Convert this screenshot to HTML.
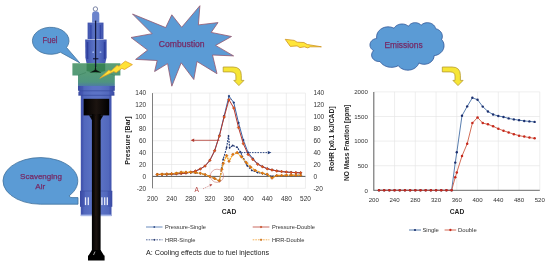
<!DOCTYPE html>
<html><head><meta charset="utf-8"><title>Figure</title>
<style>html,body{margin:0;padding:0;background:#fff}svg{display:block}</style>
</head><body>
<svg width="550" height="265" viewBox="0 0 550 265">
<rect width="550" height="265" fill="#fff"/>
<path d="M152.5,188.3 H305.46" stroke="#e3e3e3" stroke-width="0.6"/>
<path d="M152.5,164.5 H305.46" stroke="#e3e3e3" stroke-width="0.6"/>
<path d="M152.5,152.6 H305.46" stroke="#e3e3e3" stroke-width="0.6"/>
<path d="M152.5,140.7 H305.46" stroke="#e3e3e3" stroke-width="0.6"/>
<path d="M152.5,128.8 H305.46" stroke="#e3e3e3" stroke-width="0.6"/>
<path d="M152.5,116.9 H305.46" stroke="#e3e3e3" stroke-width="0.6"/>
<path d="M152.5,105 H305.46" stroke="#e3e3e3" stroke-width="0.6"/>
<path d="M152.5,93.1 H305.46" stroke="#e3e3e3" stroke-width="0.6"/>
<path d="M171.62,93.1 V188.3" stroke="#e3e3e3" stroke-width="0.6"/>
<path d="M190.74,93.1 V188.3" stroke="#e3e3e3" stroke-width="0.6"/>
<path d="M209.86,93.1 V188.3" stroke="#e3e3e3" stroke-width="0.6"/>
<path d="M228.98,93.1 V188.3" stroke="#e3e3e3" stroke-width="0.6"/>
<path d="M248.1,93.1 V188.3" stroke="#e3e3e3" stroke-width="0.6"/>
<path d="M267.22,93.1 V188.3" stroke="#e3e3e3" stroke-width="0.6"/>
<path d="M286.34,93.1 V188.3" stroke="#e3e3e3" stroke-width="0.6"/>
<path d="M305.46,93.1 V188.3" stroke="#e3e3e3" stroke-width="0.6"/>
<path d="M152.5,93.1 V188.3" stroke="#7f7f7f" stroke-width="1"/>
<path d="M152.5,176.4 H305.46" stroke="#595959" stroke-width="1"/>
<text x="146.2" y="190.6" font-size="6.5" text-anchor="end" fill="#333333" font-family="Liberation Sans, sans-serif">-20</text>
<text x="313.4" y="190.6" font-size="6.5" text-anchor="start" fill="#333333" font-family="Liberation Sans, sans-serif">-20</text>
<text x="146.2" y="178.7" font-size="6.5" text-anchor="end" fill="#333333" font-family="Liberation Sans, sans-serif">0</text>
<text x="313.4" y="178.7" font-size="6.5" text-anchor="start" fill="#333333" font-family="Liberation Sans, sans-serif">0</text>
<text x="146.2" y="166.8" font-size="6.5" text-anchor="end" fill="#333333" font-family="Liberation Sans, sans-serif">20</text>
<text x="313.4" y="166.8" font-size="6.5" text-anchor="start" fill="#333333" font-family="Liberation Sans, sans-serif">20</text>
<text x="146.2" y="154.9" font-size="6.5" text-anchor="end" fill="#333333" font-family="Liberation Sans, sans-serif">40</text>
<text x="313.4" y="154.9" font-size="6.5" text-anchor="start" fill="#333333" font-family="Liberation Sans, sans-serif">40</text>
<text x="146.2" y="143" font-size="6.5" text-anchor="end" fill="#333333" font-family="Liberation Sans, sans-serif">60</text>
<text x="313.4" y="143" font-size="6.5" text-anchor="start" fill="#333333" font-family="Liberation Sans, sans-serif">60</text>
<text x="146.2" y="131.1" font-size="6.5" text-anchor="end" fill="#333333" font-family="Liberation Sans, sans-serif">80</text>
<text x="313.4" y="131.1" font-size="6.5" text-anchor="start" fill="#333333" font-family="Liberation Sans, sans-serif">80</text>
<text x="146.2" y="119.2" font-size="6.5" text-anchor="end" fill="#333333" font-family="Liberation Sans, sans-serif">100</text>
<text x="313.4" y="119.2" font-size="6.5" text-anchor="start" fill="#333333" font-family="Liberation Sans, sans-serif">100</text>
<text x="146.2" y="107.3" font-size="6.5" text-anchor="end" fill="#333333" font-family="Liberation Sans, sans-serif">120</text>
<text x="313.4" y="107.3" font-size="6.5" text-anchor="start" fill="#333333" font-family="Liberation Sans, sans-serif">120</text>
<text x="146.2" y="95.4" font-size="6.5" text-anchor="end" fill="#333333" font-family="Liberation Sans, sans-serif">140</text>
<text x="313.4" y="95.4" font-size="6.5" text-anchor="start" fill="#333333" font-family="Liberation Sans, sans-serif">140</text>
<text x="152.5" y="201.1" font-size="6.5" text-anchor="middle" fill="#333333" font-family="Liberation Sans, sans-serif">200</text>
<text x="171.62" y="201.1" font-size="6.5" text-anchor="middle" fill="#333333" font-family="Liberation Sans, sans-serif">240</text>
<text x="190.74" y="201.1" font-size="6.5" text-anchor="middle" fill="#333333" font-family="Liberation Sans, sans-serif">280</text>
<text x="209.86" y="201.1" font-size="6.5" text-anchor="middle" fill="#333333" font-family="Liberation Sans, sans-serif">320</text>
<text x="228.98" y="201.1" font-size="6.5" text-anchor="middle" fill="#333333" font-family="Liberation Sans, sans-serif">360</text>
<text x="248.1" y="201.1" font-size="6.5" text-anchor="middle" fill="#333333" font-family="Liberation Sans, sans-serif">400</text>
<text x="267.22" y="201.1" font-size="6.5" text-anchor="middle" fill="#333333" font-family="Liberation Sans, sans-serif">440</text>
<text x="286.34" y="201.1" font-size="6.5" text-anchor="middle" fill="#333333" font-family="Liberation Sans, sans-serif">480</text>
<text x="305.46" y="201.1" font-size="6.5" text-anchor="middle" fill="#333333" font-family="Liberation Sans, sans-serif">520</text>
<text transform="translate(130.1,140.5) rotate(-90)" font-size="7" font-weight="bold" text-anchor="middle" fill="#262626" font-family="Liberation Sans, sans-serif">Pressure [Bar]</text>
<text transform="translate(334.3,138.6) rotate(-90)" font-size="6.8" font-weight="bold" text-anchor="middle" fill="#262626" font-family="Liberation Sans, sans-serif">RoHR [x0.1 kJ/CAD]</text>
<text x="229" y="213.5" font-size="6.7" font-weight="bold" text-anchor="middle" fill="#262626" font-family="Liberation Sans, sans-serif">CAD</text>
<polyline points="157.28,174.5 162.06,174.38 166.84,174.26 171.62,174.08 176.4,173.84 181.18,173.54 185.96,173.07 190.74,172.24 195.52,171.05 200.3,168.96 205.08,165.99 209.86,160.34 214.64,150.81 219.42,135.34 224.2,115.71 228.98,96.08 233.76,102.62 238.54,122.85 243.32,140.11 248.1,152.6 252.88,158.55 257.66,163.91 262.44,166.52 267.22,168.67 272,169.86 276.78,170.87 281.56,171.52 286.34,172 291.12,172.35 295.9,172.59 300.68,172.83" fill="none" stroke="#3a66a8" stroke-width="1" stroke-linejoin="round"/>
<path d="M157.28,173.2 l1.3,1.3 l-1.3,1.3 l-1.3,-1.3 Z" fill="#1f3a7a"/>
<path d="M162.06,173.08 l1.3,1.3 l-1.3,1.3 l-1.3,-1.3 Z" fill="#1f3a7a"/>
<path d="M166.84,172.96 l1.3,1.3 l-1.3,1.3 l-1.3,-1.3 Z" fill="#1f3a7a"/>
<path d="M171.62,172.78 l1.3,1.3 l-1.3,1.3 l-1.3,-1.3 Z" fill="#1f3a7a"/>
<path d="M176.4,172.54 l1.3,1.3 l-1.3,1.3 l-1.3,-1.3 Z" fill="#1f3a7a"/>
<path d="M181.18,172.24 l1.3,1.3 l-1.3,1.3 l-1.3,-1.3 Z" fill="#1f3a7a"/>
<path d="M185.96,171.77 l1.3,1.3 l-1.3,1.3 l-1.3,-1.3 Z" fill="#1f3a7a"/>
<path d="M190.74,170.94 l1.3,1.3 l-1.3,1.3 l-1.3,-1.3 Z" fill="#1f3a7a"/>
<path d="M195.52,169.75 l1.3,1.3 l-1.3,1.3 l-1.3,-1.3 Z" fill="#1f3a7a"/>
<path d="M200.3,167.66 l1.3,1.3 l-1.3,1.3 l-1.3,-1.3 Z" fill="#1f3a7a"/>
<path d="M205.08,164.69 l1.3,1.3 l-1.3,1.3 l-1.3,-1.3 Z" fill="#1f3a7a"/>
<path d="M209.86,159.03 l1.3,1.3 l-1.3,1.3 l-1.3,-1.3 Z" fill="#1f3a7a"/>
<path d="M214.64,149.51 l1.3,1.3 l-1.3,1.3 l-1.3,-1.3 Z" fill="#1f3a7a"/>
<path d="M219.42,134.04 l1.3,1.3 l-1.3,1.3 l-1.3,-1.3 Z" fill="#1f3a7a"/>
<path d="M224.2,114.41 l1.3,1.3 l-1.3,1.3 l-1.3,-1.3 Z" fill="#1f3a7a"/>
<path d="M228.98,94.78 l1.3,1.3 l-1.3,1.3 l-1.3,-1.3 Z" fill="#1f3a7a"/>
<path d="M233.76,101.32 l1.3,1.3 l-1.3,1.3 l-1.3,-1.3 Z" fill="#1f3a7a"/>
<path d="M238.54,121.55 l1.3,1.3 l-1.3,1.3 l-1.3,-1.3 Z" fill="#1f3a7a"/>
<path d="M243.32,138.81 l1.3,1.3 l-1.3,1.3 l-1.3,-1.3 Z" fill="#1f3a7a"/>
<path d="M248.1,151.3 l1.3,1.3 l-1.3,1.3 l-1.3,-1.3 Z" fill="#1f3a7a"/>
<path d="M252.88,157.25 l1.3,1.3 l-1.3,1.3 l-1.3,-1.3 Z" fill="#1f3a7a"/>
<path d="M257.66,162.6 l1.3,1.3 l-1.3,1.3 l-1.3,-1.3 Z" fill="#1f3a7a"/>
<path d="M262.44,165.22 l1.3,1.3 l-1.3,1.3 l-1.3,-1.3 Z" fill="#1f3a7a"/>
<path d="M267.22,167.37 l1.3,1.3 l-1.3,1.3 l-1.3,-1.3 Z" fill="#1f3a7a"/>
<path d="M272,168.56 l1.3,1.3 l-1.3,1.3 l-1.3,-1.3 Z" fill="#1f3a7a"/>
<path d="M276.78,169.57 l1.3,1.3 l-1.3,1.3 l-1.3,-1.3 Z" fill="#1f3a7a"/>
<path d="M281.56,170.22 l1.3,1.3 l-1.3,1.3 l-1.3,-1.3 Z" fill="#1f3a7a"/>
<path d="M286.34,170.7 l1.3,1.3 l-1.3,1.3 l-1.3,-1.3 Z" fill="#1f3a7a"/>
<path d="M291.12,171.05 l1.3,1.3 l-1.3,1.3 l-1.3,-1.3 Z" fill="#1f3a7a"/>
<path d="M295.9,171.29 l1.3,1.3 l-1.3,1.3 l-1.3,-1.3 Z" fill="#1f3a7a"/>
<path d="M300.68,171.53 l1.3,1.3 l-1.3,1.3 l-1.3,-1.3 Z" fill="#1f3a7a"/>
<polyline points="157.28,174.5 162.06,174.38 166.84,174.26 171.62,174.08 176.4,173.84 181.18,173.54 185.96,173.07 190.74,172.24 195.52,171.05 200.3,168.96 205.08,165.99 209.86,160.34 214.64,150.81 219.42,135.94 224.2,116.9 228.98,99.65 233.76,107.98 238.54,127.61 243.32,143.68 248.1,154.38 252.88,159.44 257.66,164.2 262.44,166.76 267.22,168.78 272,169.97 276.78,170.93 281.56,171.58 286.34,172.06 291.12,172.41 295.9,172.65 300.68,172.83" fill="none" stroke="#b8382c" stroke-width="1" stroke-linejoin="round"/>
<path d="M157.28,173 l1.5,1.5 l-1.5,1.5 l-1.5,-1.5 Z" fill="#e0561a" stroke="#a0301c" stroke-width="0.3"/>
<path d="M162.06,172.88 l1.5,1.5 l-1.5,1.5 l-1.5,-1.5 Z" fill="#e0561a" stroke="#a0301c" stroke-width="0.3"/>
<path d="M166.84,172.76 l1.5,1.5 l-1.5,1.5 l-1.5,-1.5 Z" fill="#e0561a" stroke="#a0301c" stroke-width="0.3"/>
<path d="M171.62,172.58 l1.5,1.5 l-1.5,1.5 l-1.5,-1.5 Z" fill="#e0561a" stroke="#a0301c" stroke-width="0.3"/>
<path d="M176.4,172.34 l1.5,1.5 l-1.5,1.5 l-1.5,-1.5 Z" fill="#e0561a" stroke="#a0301c" stroke-width="0.3"/>
<path d="M181.18,172.04 l1.5,1.5 l-1.5,1.5 l-1.5,-1.5 Z" fill="#e0561a" stroke="#a0301c" stroke-width="0.3"/>
<path d="M185.96,171.57 l1.5,1.5 l-1.5,1.5 l-1.5,-1.5 Z" fill="#e0561a" stroke="#a0301c" stroke-width="0.3"/>
<path d="M190.74,170.74 l1.5,1.5 l-1.5,1.5 l-1.5,-1.5 Z" fill="#e0561a" stroke="#a0301c" stroke-width="0.3"/>
<path d="M195.52,169.55 l1.5,1.5 l-1.5,1.5 l-1.5,-1.5 Z" fill="#e0561a" stroke="#a0301c" stroke-width="0.3"/>
<path d="M200.3,167.46 l1.5,1.5 l-1.5,1.5 l-1.5,-1.5 Z" fill="#e0561a" stroke="#a0301c" stroke-width="0.3"/>
<path d="M205.08,164.49 l1.5,1.5 l-1.5,1.5 l-1.5,-1.5 Z" fill="#e0561a" stroke="#a0301c" stroke-width="0.3"/>
<path d="M209.86,158.84 l1.5,1.5 l-1.5,1.5 l-1.5,-1.5 Z" fill="#e0561a" stroke="#a0301c" stroke-width="0.3"/>
<path d="M214.64,149.31 l1.5,1.5 l-1.5,1.5 l-1.5,-1.5 Z" fill="#e0561a" stroke="#a0301c" stroke-width="0.3"/>
<path d="M219.42,134.44 l1.5,1.5 l-1.5,1.5 l-1.5,-1.5 Z" fill="#e0561a" stroke="#a0301c" stroke-width="0.3"/>
<path d="M224.2,115.4 l1.5,1.5 l-1.5,1.5 l-1.5,-1.5 Z" fill="#e0561a" stroke="#a0301c" stroke-width="0.3"/>
<path d="M228.98,98.15 l1.5,1.5 l-1.5,1.5 l-1.5,-1.5 Z" fill="#e0561a" stroke="#a0301c" stroke-width="0.3"/>
<path d="M233.76,106.48 l1.5,1.5 l-1.5,1.5 l-1.5,-1.5 Z" fill="#e0561a" stroke="#a0301c" stroke-width="0.3"/>
<path d="M238.54,126.11 l1.5,1.5 l-1.5,1.5 l-1.5,-1.5 Z" fill="#e0561a" stroke="#a0301c" stroke-width="0.3"/>
<path d="M243.32,142.18 l1.5,1.5 l-1.5,1.5 l-1.5,-1.5 Z" fill="#e0561a" stroke="#a0301c" stroke-width="0.3"/>
<path d="M248.1,152.88 l1.5,1.5 l-1.5,1.5 l-1.5,-1.5 Z" fill="#e0561a" stroke="#a0301c" stroke-width="0.3"/>
<path d="M252.88,157.94 l1.5,1.5 l-1.5,1.5 l-1.5,-1.5 Z" fill="#e0561a" stroke="#a0301c" stroke-width="0.3"/>
<path d="M257.66,162.7 l1.5,1.5 l-1.5,1.5 l-1.5,-1.5 Z" fill="#e0561a" stroke="#a0301c" stroke-width="0.3"/>
<path d="M262.44,165.26 l1.5,1.5 l-1.5,1.5 l-1.5,-1.5 Z" fill="#e0561a" stroke="#a0301c" stroke-width="0.3"/>
<path d="M267.22,167.28 l1.5,1.5 l-1.5,1.5 l-1.5,-1.5 Z" fill="#e0561a" stroke="#a0301c" stroke-width="0.3"/>
<path d="M272,168.47 l1.5,1.5 l-1.5,1.5 l-1.5,-1.5 Z" fill="#e0561a" stroke="#a0301c" stroke-width="0.3"/>
<path d="M276.78,169.43 l1.5,1.5 l-1.5,1.5 l-1.5,-1.5 Z" fill="#e0561a" stroke="#a0301c" stroke-width="0.3"/>
<path d="M281.56,170.08 l1.5,1.5 l-1.5,1.5 l-1.5,-1.5 Z" fill="#e0561a" stroke="#a0301c" stroke-width="0.3"/>
<path d="M286.34,170.56 l1.5,1.5 l-1.5,1.5 l-1.5,-1.5 Z" fill="#e0561a" stroke="#a0301c" stroke-width="0.3"/>
<path d="M291.12,170.91 l1.5,1.5 l-1.5,1.5 l-1.5,-1.5 Z" fill="#e0561a" stroke="#a0301c" stroke-width="0.3"/>
<path d="M295.9,171.15 l1.5,1.5 l-1.5,1.5 l-1.5,-1.5 Z" fill="#e0561a" stroke="#a0301c" stroke-width="0.3"/>
<path d="M300.68,171.33 l1.5,1.5 l-1.5,1.5 l-1.5,-1.5 Z" fill="#e0561a" stroke="#a0301c" stroke-width="0.3"/>
<polyline points="157.28,174.62 162.06,174.5 166.84,174.32 171.62,174.02 176.4,173.43 181.18,172.53 185.96,172.53 190.74,172.53 195.52,172.83 200.3,173.43 205.08,174.62 209.86,176.4 214.64,178.48 219.42,180.86 221.81,168.07 223.24,159.15 226.59,147.84 228.5,135.94 229.7,147.84 232.8,145.46 237.11,147.25 240.45,152 243.8,159.15 247.14,165.69 251.92,170.45 257.66,172.53 262.44,173.54 267.22,174.79 272,176.4 276.78,175.57 281.56,175.51 286.34,175.39 291.12,175.33 295.9,175.21 300.68,175.21" fill="none" stroke="#1f3a7a" stroke-width="1.1" stroke-dasharray="1.8,1" stroke-linejoin="round"/>
<path d="M157.28,173.52 l1.1,1.1 l-1.1,1.1 l-1.1,-1.1 Z" fill="#1f2f66"/>
<path d="M162.06,173.4 l1.1,1.1 l-1.1,1.1 l-1.1,-1.1 Z" fill="#1f2f66"/>
<path d="M166.84,173.22 l1.1,1.1 l-1.1,1.1 l-1.1,-1.1 Z" fill="#1f2f66"/>
<path d="M171.62,172.92 l1.1,1.1 l-1.1,1.1 l-1.1,-1.1 Z" fill="#1f2f66"/>
<path d="M176.4,172.33 l1.1,1.1 l-1.1,1.1 l-1.1,-1.1 Z" fill="#1f2f66"/>
<path d="M181.18,171.43 l1.1,1.1 l-1.1,1.1 l-1.1,-1.1 Z" fill="#1f2f66"/>
<path d="M185.96,171.43 l1.1,1.1 l-1.1,1.1 l-1.1,-1.1 Z" fill="#1f2f66"/>
<path d="M190.74,171.43 l1.1,1.1 l-1.1,1.1 l-1.1,-1.1 Z" fill="#1f2f66"/>
<path d="M195.52,171.73 l1.1,1.1 l-1.1,1.1 l-1.1,-1.1 Z" fill="#1f2f66"/>
<path d="M200.3,172.33 l1.1,1.1 l-1.1,1.1 l-1.1,-1.1 Z" fill="#1f2f66"/>
<path d="M205.08,173.52 l1.1,1.1 l-1.1,1.1 l-1.1,-1.1 Z" fill="#1f2f66"/>
<path d="M209.86,175.3 l1.1,1.1 l-1.1,1.1 l-1.1,-1.1 Z" fill="#1f2f66"/>
<path d="M214.64,177.38 l1.1,1.1 l-1.1,1.1 l-1.1,-1.1 Z" fill="#1f2f66"/>
<path d="M219.42,179.76 l1.1,1.1 l-1.1,1.1 l-1.1,-1.1 Z" fill="#1f2f66"/>
<path d="M221.81,166.97 l1.1,1.1 l-1.1,1.1 l-1.1,-1.1 Z" fill="#1f2f66"/>
<path d="M223.24,158.05 l1.1,1.1 l-1.1,1.1 l-1.1,-1.1 Z" fill="#1f2f66"/>
<path d="M226.59,146.74 l1.1,1.1 l-1.1,1.1 l-1.1,-1.1 Z" fill="#1f2f66"/>
<path d="M228.5,134.84 l1.1,1.1 l-1.1,1.1 l-1.1,-1.1 Z" fill="#1f2f66"/>
<path d="M229.7,146.74 l1.1,1.1 l-1.1,1.1 l-1.1,-1.1 Z" fill="#1f2f66"/>
<path d="M232.8,144.36 l1.1,1.1 l-1.1,1.1 l-1.1,-1.1 Z" fill="#1f2f66"/>
<path d="M237.11,146.15 l1.1,1.1 l-1.1,1.1 l-1.1,-1.1 Z" fill="#1f2f66"/>
<path d="M240.45,150.91 l1.1,1.1 l-1.1,1.1 l-1.1,-1.1 Z" fill="#1f2f66"/>
<path d="M243.8,158.05 l1.1,1.1 l-1.1,1.1 l-1.1,-1.1 Z" fill="#1f2f66"/>
<path d="M247.14,164.59 l1.1,1.1 l-1.1,1.1 l-1.1,-1.1 Z" fill="#1f2f66"/>
<path d="M251.92,169.35 l1.1,1.1 l-1.1,1.1 l-1.1,-1.1 Z" fill="#1f2f66"/>
<path d="M257.66,171.43 l1.1,1.1 l-1.1,1.1 l-1.1,-1.1 Z" fill="#1f2f66"/>
<path d="M262.44,172.44 l1.1,1.1 l-1.1,1.1 l-1.1,-1.1 Z" fill="#1f2f66"/>
<path d="M267.22,173.69 l1.1,1.1 l-1.1,1.1 l-1.1,-1.1 Z" fill="#1f2f66"/>
<path d="M272,175.3 l1.1,1.1 l-1.1,1.1 l-1.1,-1.1 Z" fill="#1f2f66"/>
<path d="M276.78,174.47 l1.1,1.1 l-1.1,1.1 l-1.1,-1.1 Z" fill="#1f2f66"/>
<path d="M281.56,174.41 l1.1,1.1 l-1.1,1.1 l-1.1,-1.1 Z" fill="#1f2f66"/>
<path d="M286.34,174.29 l1.1,1.1 l-1.1,1.1 l-1.1,-1.1 Z" fill="#1f2f66"/>
<path d="M291.12,174.23 l1.1,1.1 l-1.1,1.1 l-1.1,-1.1 Z" fill="#1f2f66"/>
<path d="M295.9,174.11 l1.1,1.1 l-1.1,1.1 l-1.1,-1.1 Z" fill="#1f2f66"/>
<path d="M300.68,174.11 l1.1,1.1 l-1.1,1.1 l-1.1,-1.1 Z" fill="#1f2f66"/>
<polyline points="157.28,174.38 162.06,174.26 166.84,174.08 171.62,173.78 176.4,173.19 181.18,172.24 185.96,172.24 190.74,172.24 195.52,172.59 200.3,173.31 205.08,174.62 209.86,176.4 214.64,178.48 219.42,180.86 221.81,169.26 223.24,163.55 226.59,155.58 228.98,161.23 232.8,154.38 237.11,152.6 241.41,156.77 246.19,162.42 250.49,166.88 255.27,170.45 262.44,173.13 267.22,174.32 272,178.01 276.78,175.57 281.56,175.45 286.34,175.33 291.12,175.27 295.9,175.21 300.68,175.21" fill="none" stroke="#f5a11f" stroke-width="1.4" stroke-dasharray="2,0.8" stroke-linejoin="round"/>
<path d="M157.28,172.88 l1.5,1.5 l-1.5,1.5 l-1.5,-1.5 Z" fill="#e2760e" stroke="#9a4a10" stroke-width="0.3"/>
<path d="M162.06,172.76 l1.5,1.5 l-1.5,1.5 l-1.5,-1.5 Z" fill="#e2760e" stroke="#9a4a10" stroke-width="0.3"/>
<path d="M166.84,172.58 l1.5,1.5 l-1.5,1.5 l-1.5,-1.5 Z" fill="#e2760e" stroke="#9a4a10" stroke-width="0.3"/>
<path d="M171.62,172.28 l1.5,1.5 l-1.5,1.5 l-1.5,-1.5 Z" fill="#e2760e" stroke="#9a4a10" stroke-width="0.3"/>
<path d="M176.4,171.69 l1.5,1.5 l-1.5,1.5 l-1.5,-1.5 Z" fill="#e2760e" stroke="#9a4a10" stroke-width="0.3"/>
<path d="M181.18,170.74 l1.5,1.5 l-1.5,1.5 l-1.5,-1.5 Z" fill="#e2760e" stroke="#9a4a10" stroke-width="0.3"/>
<path d="M185.96,170.74 l1.5,1.5 l-1.5,1.5 l-1.5,-1.5 Z" fill="#e2760e" stroke="#9a4a10" stroke-width="0.3"/>
<path d="M190.74,170.74 l1.5,1.5 l-1.5,1.5 l-1.5,-1.5 Z" fill="#e2760e" stroke="#9a4a10" stroke-width="0.3"/>
<path d="M195.52,171.09 l1.5,1.5 l-1.5,1.5 l-1.5,-1.5 Z" fill="#e2760e" stroke="#9a4a10" stroke-width="0.3"/>
<path d="M200.3,171.81 l1.5,1.5 l-1.5,1.5 l-1.5,-1.5 Z" fill="#e2760e" stroke="#9a4a10" stroke-width="0.3"/>
<path d="M205.08,173.12 l1.5,1.5 l-1.5,1.5 l-1.5,-1.5 Z" fill="#e2760e" stroke="#9a4a10" stroke-width="0.3"/>
<path d="M209.86,174.9 l1.5,1.5 l-1.5,1.5 l-1.5,-1.5 Z" fill="#e2760e" stroke="#9a4a10" stroke-width="0.3"/>
<path d="M214.64,176.98 l1.5,1.5 l-1.5,1.5 l-1.5,-1.5 Z" fill="#e2760e" stroke="#9a4a10" stroke-width="0.3"/>
<path d="M219.42,179.36 l1.5,1.5 l-1.5,1.5 l-1.5,-1.5 Z" fill="#e2760e" stroke="#9a4a10" stroke-width="0.3"/>
<path d="M221.81,167.76 l1.5,1.5 l-1.5,1.5 l-1.5,-1.5 Z" fill="#e2760e" stroke="#9a4a10" stroke-width="0.3"/>
<path d="M223.24,162.05 l1.5,1.5 l-1.5,1.5 l-1.5,-1.5 Z" fill="#e2760e" stroke="#9a4a10" stroke-width="0.3"/>
<path d="M226.59,154.08 l1.5,1.5 l-1.5,1.5 l-1.5,-1.5 Z" fill="#e2760e" stroke="#9a4a10" stroke-width="0.3"/>
<path d="M228.98,159.73 l1.5,1.5 l-1.5,1.5 l-1.5,-1.5 Z" fill="#e2760e" stroke="#9a4a10" stroke-width="0.3"/>
<path d="M232.8,152.88 l1.5,1.5 l-1.5,1.5 l-1.5,-1.5 Z" fill="#e2760e" stroke="#9a4a10" stroke-width="0.3"/>
<path d="M237.11,151.1 l1.5,1.5 l-1.5,1.5 l-1.5,-1.5 Z" fill="#e2760e" stroke="#9a4a10" stroke-width="0.3"/>
<path d="M241.41,155.27 l1.5,1.5 l-1.5,1.5 l-1.5,-1.5 Z" fill="#e2760e" stroke="#9a4a10" stroke-width="0.3"/>
<path d="M246.19,160.92 l1.5,1.5 l-1.5,1.5 l-1.5,-1.5 Z" fill="#e2760e" stroke="#9a4a10" stroke-width="0.3"/>
<path d="M250.49,165.38 l1.5,1.5 l-1.5,1.5 l-1.5,-1.5 Z" fill="#e2760e" stroke="#9a4a10" stroke-width="0.3"/>
<path d="M255.27,168.95 l1.5,1.5 l-1.5,1.5 l-1.5,-1.5 Z" fill="#e2760e" stroke="#9a4a10" stroke-width="0.3"/>
<path d="M262.44,171.63 l1.5,1.5 l-1.5,1.5 l-1.5,-1.5 Z" fill="#e2760e" stroke="#9a4a10" stroke-width="0.3"/>
<path d="M267.22,172.82 l1.5,1.5 l-1.5,1.5 l-1.5,-1.5 Z" fill="#e2760e" stroke="#9a4a10" stroke-width="0.3"/>
<path d="M272,176.51 l1.5,1.5 l-1.5,1.5 l-1.5,-1.5 Z" fill="#e2760e" stroke="#9a4a10" stroke-width="0.3"/>
<path d="M276.78,174.07 l1.5,1.5 l-1.5,1.5 l-1.5,-1.5 Z" fill="#e2760e" stroke="#9a4a10" stroke-width="0.3"/>
<path d="M281.56,173.95 l1.5,1.5 l-1.5,1.5 l-1.5,-1.5 Z" fill="#e2760e" stroke="#9a4a10" stroke-width="0.3"/>
<path d="M286.34,173.83 l1.5,1.5 l-1.5,1.5 l-1.5,-1.5 Z" fill="#e2760e" stroke="#9a4a10" stroke-width="0.3"/>
<path d="M291.12,173.77 l1.5,1.5 l-1.5,1.5 l-1.5,-1.5 Z" fill="#e2760e" stroke="#9a4a10" stroke-width="0.3"/>
<path d="M295.9,173.71 l1.5,1.5 l-1.5,1.5 l-1.5,-1.5 Z" fill="#e2760e" stroke="#9a4a10" stroke-width="0.3"/>
<path d="M300.68,173.71 l1.5,1.5 l-1.5,1.5 l-1.5,-1.5 Z" fill="#e2760e" stroke="#9a4a10" stroke-width="0.3"/>
<path d="M219.5,140.3 H192.5" stroke="#b23a30" stroke-width="0.8"/>
<path d="M190.6,140.3 L194.2,138.6 V142 Z" fill="#b23a30"/>
<path d="M238.5,152.6 H268.5" stroke="#1f3a7a" stroke-width="0.9" stroke-dasharray="1.6,1.1"/>
<path d="M271.4,152.6 L267.8,150.9 V154.3 Z" fill="#1f3a7a"/>
<circle cx="217" cy="175.8" r="6.6" fill="none" stroke="#c0605a" stroke-width="0.5"/>
<text x="196.7" y="191.6" font-size="6.6" text-anchor="middle" fill="#b5403c" font-family="Liberation Sans, sans-serif">A</text>
<path d="M203,188.8 L210.6,185.2" stroke="#b5403c" stroke-width="0.5" stroke-dasharray="1.2,0.8"/>
<path d="M212.4,184.3 L209.4,184.3 L210.6,186.6 Z" fill="#b5403c"/>
<path d="M146,227 H162.5" stroke="#3a66a8" stroke-width="0.75"/><path d="M154.25,225.9 l1.1,1.1 l-1.1,1.1 l-1.1,-1.1 Z" fill="#1f3a7a"/><text x="165" y="229" font-size="5.75" fill="#333333" font-family="Liberation Sans, sans-serif">Pressure-Single</text>
<path d="M146,239.8 H162.5" stroke="#1f3a7a" stroke-width="0.75" stroke-dasharray="1.6,1"/><path d="M154.25,238.7 l1.1,1.1 l-1.1,1.1 l-1.1,-1.1 Z" fill="#1f2f66"/><text x="165" y="241.8" font-size="5.75" fill="#333333" font-family="Liberation Sans, sans-serif">HRR-Single</text>
<path d="M252.7,227 H269.4" stroke="#b8382c" stroke-width="0.75"/><path d="M261.05,225.9 l1.1,1.1 l-1.1,1.1 l-1.1,-1.1 Z" fill="#e0561a" stroke="#a0301c" stroke-width="0.3"/><text x="271.9" y="229" font-size="5.75" fill="#333333" font-family="Liberation Sans, sans-serif">Pressure-Double</text>
<path d="M252.7,239.8 H269.4" stroke="#f29a1f" stroke-width="0.75" stroke-dasharray="1.6,1"/><path d="M261.05,238.7 l1.1,1.1 l-1.1,1.1 l-1.1,-1.1 Z" fill="#e07a10" stroke="#9a4a10" stroke-width="0.3"/><text x="271.9" y="241.8" font-size="5.75" fill="#333333" font-family="Liberation Sans, sans-serif">HRR-Double</text>
<text x="146" y="255.3" font-size="6.9" fill="#1a1a1a" textLength="123" lengthAdjust="spacingAndGlyphs" font-family="Liberation Sans, sans-serif">A: Cooling effects due to fuel injections</text>
<path d="M373.8,165.7 H539.8" stroke="#e3e3e3" stroke-width="0.6"/>
<path d="M373.8,141.1 H539.8" stroke="#e3e3e3" stroke-width="0.6"/>
<path d="M373.8,116.5 H539.8" stroke="#e3e3e3" stroke-width="0.6"/>
<path d="M373.8,91.9 H539.8" stroke="#e3e3e3" stroke-width="0.6"/>
<path d="M394.55,91.9 V190.3" stroke="#e3e3e3" stroke-width="0.6"/>
<path d="M415.3,91.9 V190.3" stroke="#e3e3e3" stroke-width="0.6"/>
<path d="M436.05,91.9 V190.3" stroke="#e3e3e3" stroke-width="0.6"/>
<path d="M456.8,91.9 V190.3" stroke="#e3e3e3" stroke-width="0.6"/>
<path d="M477.55,91.9 V190.3" stroke="#e3e3e3" stroke-width="0.6"/>
<path d="M498.3,91.9 V190.3" stroke="#e3e3e3" stroke-width="0.6"/>
<path d="M519.05,91.9 V190.3" stroke="#e3e3e3" stroke-width="0.6"/>
<path d="M539.8,91.9 V190.3" stroke="#e3e3e3" stroke-width="0.6"/>
<path d="M373.8,91.9 V190.8" stroke="#6a6a6a" stroke-width="1.1"/>
<path d="M373.8,190.3 H539.8" stroke="#6a6a6a" stroke-width="1"/>
<text x="367.8" y="192.5" font-size="6.1" text-anchor="end" fill="#333333" font-family="Liberation Sans, sans-serif">0</text>
<text x="367.8" y="167.9" font-size="6.1" text-anchor="end" fill="#333333" font-family="Liberation Sans, sans-serif">500</text>
<text x="367.8" y="143.3" font-size="6.1" text-anchor="end" fill="#333333" font-family="Liberation Sans, sans-serif">1000</text>
<text x="367.8" y="118.7" font-size="6.1" text-anchor="end" fill="#333333" font-family="Liberation Sans, sans-serif">1500</text>
<text x="367.8" y="94.1" font-size="6.1" text-anchor="end" fill="#333333" font-family="Liberation Sans, sans-serif">2000</text>
<text x="373.8" y="201.9" font-size="6.1" text-anchor="middle" fill="#333333" font-family="Liberation Sans, sans-serif">200</text>
<text x="394.55" y="201.9" font-size="6.1" text-anchor="middle" fill="#333333" font-family="Liberation Sans, sans-serif">240</text>
<text x="415.3" y="201.9" font-size="6.1" text-anchor="middle" fill="#333333" font-family="Liberation Sans, sans-serif">280</text>
<text x="436.05" y="201.9" font-size="6.1" text-anchor="middle" fill="#333333" font-family="Liberation Sans, sans-serif">320</text>
<text x="456.8" y="201.9" font-size="6.1" text-anchor="middle" fill="#333333" font-family="Liberation Sans, sans-serif">360</text>
<text x="477.55" y="201.9" font-size="6.1" text-anchor="middle" fill="#333333" font-family="Liberation Sans, sans-serif">400</text>
<text x="498.3" y="201.9" font-size="6.1" text-anchor="middle" fill="#333333" font-family="Liberation Sans, sans-serif">440</text>
<text x="519.05" y="201.9" font-size="6.1" text-anchor="middle" fill="#333333" font-family="Liberation Sans, sans-serif">480</text>
<text x="539.8" y="201.9" font-size="6.1" text-anchor="middle" fill="#333333" font-family="Liberation Sans, sans-serif">520</text>
<text transform="translate(348.9,142.8) rotate(-90)" font-size="6.6" font-weight="bold" text-anchor="middle" fill="#262626" font-family="Liberation Sans, sans-serif">NO Mass Fraction [ppm]</text>
<text x="457" y="214.2" font-size="6.7" font-weight="bold" text-anchor="middle" fill="#262626" font-family="Liberation Sans, sans-serif">CAD</text>
<polyline points="378.99,190.3 384.18,190.3 389.36,190.3 394.55,190.3 399.74,190.3 404.93,190.3 410.11,190.3 415.3,190.3 420.49,190.3 425.68,190.3 430.86,190.3 436.05,190.3 441.24,190.3 446.43,190.3 451.61,190.3 455.24,162.6 456.8,152.32 461.99,115.71 467.18,106.41 472.36,97.8 477.55,99.72 482.74,106.61 487.93,111.53 493.11,114.48 498.3,116.01 503.49,116.94 508.68,118.42 513.86,119.4 519.05,120.14 524.24,120.93 529.42,121.42 534.61,121.91" fill="none" stroke="#2f5d9a" stroke-width="0.8" stroke-linejoin="round"/>
<circle cx="378.99" cy="190.3" r="1.2" fill="#1c2f6e"/>
<circle cx="384.18" cy="190.3" r="1.2" fill="#1c2f6e"/>
<circle cx="389.36" cy="190.3" r="1.2" fill="#1c2f6e"/>
<circle cx="394.55" cy="190.3" r="1.2" fill="#1c2f6e"/>
<circle cx="399.74" cy="190.3" r="1.2" fill="#1c2f6e"/>
<circle cx="404.93" cy="190.3" r="1.2" fill="#1c2f6e"/>
<circle cx="410.11" cy="190.3" r="1.2" fill="#1c2f6e"/>
<circle cx="415.3" cy="190.3" r="1.2" fill="#1c2f6e"/>
<circle cx="420.49" cy="190.3" r="1.2" fill="#1c2f6e"/>
<circle cx="425.68" cy="190.3" r="1.2" fill="#1c2f6e"/>
<circle cx="430.86" cy="190.3" r="1.2" fill="#1c2f6e"/>
<circle cx="436.05" cy="190.3" r="1.2" fill="#1c2f6e"/>
<circle cx="441.24" cy="190.3" r="1.2" fill="#1c2f6e"/>
<circle cx="446.43" cy="190.3" r="1.2" fill="#1c2f6e"/>
<circle cx="451.61" cy="190.3" r="1.2" fill="#1c2f6e"/>
<circle cx="455.24" cy="162.6" r="1.2" fill="#1c2f6e"/>
<circle cx="456.8" cy="152.32" r="1.2" fill="#1c2f6e"/>
<circle cx="461.99" cy="115.71" r="1.2" fill="#1c2f6e"/>
<circle cx="467.18" cy="106.41" r="1.2" fill="#1c2f6e"/>
<circle cx="472.36" cy="97.8" r="1.2" fill="#1c2f6e"/>
<circle cx="477.55" cy="99.72" r="1.2" fill="#1c2f6e"/>
<circle cx="482.74" cy="106.61" r="1.2" fill="#1c2f6e"/>
<circle cx="487.93" cy="111.53" r="1.2" fill="#1c2f6e"/>
<circle cx="493.11" cy="114.48" r="1.2" fill="#1c2f6e"/>
<circle cx="498.3" cy="116.01" r="1.2" fill="#1c2f6e"/>
<circle cx="503.49" cy="116.94" r="1.2" fill="#1c2f6e"/>
<circle cx="508.68" cy="118.42" r="1.2" fill="#1c2f6e"/>
<circle cx="513.86" cy="119.4" r="1.2" fill="#1c2f6e"/>
<circle cx="519.05" cy="120.14" r="1.2" fill="#1c2f6e"/>
<circle cx="524.24" cy="120.93" r="1.2" fill="#1c2f6e"/>
<circle cx="529.42" cy="121.42" r="1.2" fill="#1c2f6e"/>
<circle cx="534.61" cy="121.91" r="1.2" fill="#1c2f6e"/>
<polyline points="378.99,190.3 384.18,190.3 389.36,190.3 394.55,190.3 399.74,190.3 404.93,190.3 410.11,190.3 415.3,190.3 420.49,190.3 425.68,190.3 430.86,190.3 436.05,190.3 441.24,190.3 446.43,190.3 451.61,190.3 455.24,177.31 456.8,172.39 461.99,156.01 467.18,143.81 472.36,123.09 477.55,117.43 482.74,123.09 487.93,124.32 493.11,126.29 498.3,128.75 503.49,130.72 508.68,132.44 513.86,134.16 519.05,135.64 524.24,136.62 529.42,137.61 534.61,138.34" fill="none" stroke="#c8472c" stroke-width="0.8" stroke-linejoin="round"/>
<circle cx="378.99" cy="190.3" r="1.25" fill="#c6281c"/>
<circle cx="384.18" cy="190.3" r="1.25" fill="#c6281c"/>
<circle cx="389.36" cy="190.3" r="1.25" fill="#c6281c"/>
<circle cx="394.55" cy="190.3" r="1.25" fill="#c6281c"/>
<circle cx="399.74" cy="190.3" r="1.25" fill="#c6281c"/>
<circle cx="404.93" cy="190.3" r="1.25" fill="#c6281c"/>
<circle cx="410.11" cy="190.3" r="1.25" fill="#c6281c"/>
<circle cx="415.3" cy="190.3" r="1.25" fill="#c6281c"/>
<circle cx="420.49" cy="190.3" r="1.25" fill="#c6281c"/>
<circle cx="425.68" cy="190.3" r="1.25" fill="#c6281c"/>
<circle cx="430.86" cy="190.3" r="1.25" fill="#c6281c"/>
<circle cx="436.05" cy="190.3" r="1.25" fill="#c6281c"/>
<circle cx="441.24" cy="190.3" r="1.25" fill="#c6281c"/>
<circle cx="446.43" cy="190.3" r="1.25" fill="#c6281c"/>
<circle cx="451.61" cy="190.3" r="1.25" fill="#c6281c"/>
<circle cx="455.24" cy="177.31" r="1.25" fill="#c6281c"/>
<circle cx="456.8" cy="172.39" r="1.25" fill="#c6281c"/>
<circle cx="461.99" cy="156.01" r="1.25" fill="#c6281c"/>
<circle cx="467.18" cy="143.81" r="1.25" fill="#c6281c"/>
<circle cx="472.36" cy="123.09" r="1.25" fill="#c6281c"/>
<circle cx="477.55" cy="117.43" r="1.25" fill="#c6281c"/>
<circle cx="482.74" cy="123.09" r="1.25" fill="#c6281c"/>
<circle cx="487.93" cy="124.32" r="1.25" fill="#c6281c"/>
<circle cx="493.11" cy="126.29" r="1.25" fill="#c6281c"/>
<circle cx="498.3" cy="128.75" r="1.25" fill="#c6281c"/>
<circle cx="503.49" cy="130.72" r="1.25" fill="#c6281c"/>
<circle cx="508.68" cy="132.44" r="1.25" fill="#c6281c"/>
<circle cx="513.86" cy="134.16" r="1.25" fill="#c6281c"/>
<circle cx="519.05" cy="135.64" r="1.25" fill="#c6281c"/>
<circle cx="524.24" cy="136.62" r="1.25" fill="#c6281c"/>
<circle cx="529.42" cy="137.61" r="1.25" fill="#c6281c"/>
<circle cx="534.61" cy="138.34" r="1.25" fill="#c6281c"/>
<path d="M409,230 H421" stroke="#2f5d9a" stroke-width="0.8"/><circle cx="415" cy="230" r="1.1" fill="#1c2f6e"/>
<text x="422.4" y="232.1" font-size="5.9" fill="#333333" font-family="Liberation Sans, sans-serif">Single</text>
<path d="M444.6,230 H456.2" stroke="#c8472c" stroke-width="0.8"/><circle cx="450.4" cy="230" r="1.15" fill="#c6281c"/>
<text x="458" y="232.1" font-size="5.9" fill="#333333" font-family="Liberation Sans, sans-serif">Double</text>
<path d="M66.55,47.55 A18.3,13.5 0 1 0 60.4,52.25 L79.8,62.9 Z" fill="#5b9bd5" stroke="#41719c" stroke-width="0.8" stroke-linejoin="round"/>
<text x="50" y="43.2" font-size="8.5" text-anchor="middle" textLength="14.8" lengthAdjust="spacingAndGlyphs" fill="#762a66" stroke="#762a66" stroke-width="0.25" font-family="Liberation Sans, sans-serif">Fuel</text>
<path d="M69.05,195.88 A37.4,23.3 0 1 0 40.4,204.2 L78,204.2 L78,197.6 L72,197.6 Q69.6,197.6 69.05,195.88 Z" fill="#5b9bd5" stroke="#41719c" stroke-width="0.8" stroke-linejoin="round"/>
<text x="41" y="179" font-size="8" text-anchor="middle" fill="#762a66" stroke="#762a66" stroke-width="0.25" font-family="Liberation Sans, sans-serif">Scavenging</text>
<text x="40.2" y="189.3" font-size="8" text-anchor="middle" fill="#762a66" stroke="#762a66" stroke-width="0.25" font-family="Liberation Sans, sans-serif">Air</text>
<polygon points="132.5,14 165.7,27.6 171.8,14.8 181.7,27.3 199.9,5.7 198.4,24.9 218,22.6 211.2,32.4 231.5,36.5 215.6,45.4 233.6,55.9 212.5,55 217,73.7 197,61.5 193.8,79.5 181.2,62.8 171.8,86.2 167.6,63.6 154.6,71.5 157.2,60.5 135.6,59.4 147.6,50.1 131,37.5 152.1,33.7" fill="#5b9bd5" stroke="#94586e" stroke-width="0.8" stroke-linejoin="miter"/>
<text x="181.7" y="46.8" font-size="8.6" text-anchor="middle" fill="#762a66" stroke="#762a66" stroke-width="0.25" font-family="Liberation Sans, sans-serif">Combustion</text>
<polygon points="376.68,38.3 376.58,36.89 376.7,35.49 377.04,34.11 377.6,32.78 378.36,31.54 379.32,30.4 380.45,29.39 381.73,28.53 383.13,27.83 384.63,27.31 386.2,26.98 387.81,26.84 389.42,26.9 391.01,27.15 392.54,27.59 393.99,28.22 394.54,27.43 395.19,26.69 395.94,26.03 396.77,25.45 397.67,24.96 398.63,24.56 399.63,24.26 400.67,24.07 401.73,23.98 402.79,24 403.84,24.13 404.87,24.36 405.86,24.7 406.79,25.14 407.67,25.66 408.47,26.27 408.94,25.56 409.52,24.9 410.18,24.31 410.93,23.8 411.74,23.38 412.61,23.05 413.52,22.81 414.45,22.68 415.4,22.66 416.34,22.74 417.26,22.92 418.15,23.2 419,23.58 419.78,24.05 420.48,24.6 421.1,25.23 421.92,24.5 422.85,23.87 423.88,23.37 424.97,22.99 426.11,22.76 427.28,22.67 428.46,22.72 429.61,22.91 430.72,23.25 431.76,23.72 432.72,24.31 433.57,25.01 434.31,25.81 434.9,26.69 435.35,27.64 435.64,28.63 436.56,28.9 437.45,29.25 438.29,29.69 439.08,30.2 439.79,30.78 440.43,31.42 440.99,32.12 441.46,32.87 441.84,33.66 442.12,34.48 442.3,35.32 442.37,36.17 442.34,37.02 442.21,37.87 441.97,38.7 441.63,39.5 442.47,40.59 443.14,41.78 443.63,43.03 443.93,44.32 444.03,45.64 443.94,46.95 443.65,48.25 443.18,49.5 442.52,50.69 441.69,51.79 440.7,52.79 439.57,53.66 438.32,54.41 436.98,55 435.55,55.44 434.07,55.71 433.97,56.85 433.71,57.97 433.27,59.05 432.67,60.07 431.93,61.02 431.04,61.87 430.04,62.6 428.93,63.22 427.74,63.71 426.49,64.05 425.2,64.24 423.89,64.29 422.58,64.18 421.3,63.92 420.07,63.52 418.92,62.98 418.33,64.31 417.54,65.56 416.56,66.7 415.4,67.71 414.1,68.57 412.67,69.25 411.14,69.75 409.55,70.06 407.92,70.17 406.29,70.08 404.7,69.79 403.16,69.31 401.72,68.64 400.4,67.8 399.23,66.8 398.23,65.67 397.07,66.22 395.86,66.66 394.6,66.99 393.31,67.21 392,67.32 390.68,67.31 389.37,67.19 388.09,66.96 386.83,66.61 385.62,66.16 384.47,65.6 383.39,64.95 382.38,64.2 381.47,63.37 380.65,62.47 379.94,61.5 378.81,61.54 377.68,61.43 376.58,61.17 375.54,60.77 374.58,60.24 373.73,59.58 373,58.82 372.41,57.97 371.97,57.05 371.7,56.09 371.6,55.1 371.68,54.11 371.93,53.15 372.34,52.22 372.91,51.36 373.62,50.59 372.66,50.01 371.82,49.3 371.12,48.48 370.57,47.58 370.18,46.61 369.98,45.6 369.95,44.58 370.11,43.57 370.44,42.58 370.95,41.66 371.61,40.82 372.42,40.08 373.35,39.46 374.37,38.97 375.47,38.63 376.62,38.45" fill="#5b9bd5" stroke="#2f5496" stroke-width="0.8" stroke-linejoin="round"/>
<text x="403.5" y="47.6" font-size="8.4" text-anchor="middle" fill="#762a66" stroke="#762a66" stroke-width="0.25" font-family="Liberation Sans, sans-serif">Emissions</text>
<defs>
<linearGradient id="gBody" x1="0" x2="1" y1="0" y2="0">
<stop offset="0" stop-color="#3a4aa2"/><stop offset="0.08" stop-color="#4254ae"/><stop offset="0.13" stop-color="#4558b2"/><stop offset="0.16" stop-color="#5167bc"/><stop offset="0.4" stop-color="#5b72c5"/><stop offset="0.6" stop-color="#5b72c5"/><stop offset="0.84" stop-color="#5167bc"/><stop offset="0.87" stop-color="#4558b2"/><stop offset="0.92" stop-color="#4254ae"/><stop offset="1" stop-color="#3a4aa2"/>
</linearGradient>
<linearGradient id="gTop" x1="0" x2="1" y1="0" y2="0">
<stop offset="0" stop-color="#3f52ac"/><stop offset="0.2" stop-color="#4a60b8"/><stop offset="0.5" stop-color="#617aca"/><stop offset="0.8" stop-color="#4a60b8"/><stop offset="1" stop-color="#3f52ac"/>
</linearGradient>
<linearGradient id="gHead" x1="0" x2="0" y1="0" y2="1">
<stop offset="0" stop-color="#5c9f76"/><stop offset="0.45" stop-color="#559b78"/><stop offset="0.8" stop-color="#4f957f"/><stop offset="1" stop-color="#4d7aa6"/>
</linearGradient>
<linearGradient id="gPiston" x1="0" x2="1" y1="0" y2="0">
<stop offset="0" stop-color="#000"/><stop offset="0.5" stop-color="#1c1410"/><stop offset="1" stop-color="#000"/>
</linearGradient>
</defs>
<circle cx="95.4" cy="9" r="2.2" fill="#fff" stroke="#5b6790" stroke-width="0.8"/>
<path d="M92.1,22.8 V14.4 Q92.1,11.2 95.7,11.2 Q99.3,11.2 99.3,14.4 V22.8 Z" fill="#6c84cc"/>
<rect x="87.6" y="22.6" width="15.9" height="16.4" fill="url(#gTop)"/>
<path d="M85.2,39.6 H106.6 V57.5 L105.2,63.6 H86.6 L85.4,57.5 Z" fill="url(#gTop)"/>
<rect x="86.7" y="42" width="1.6" height="17" fill="#2f409e"/>
<rect x="103.8" y="42" width="1.6" height="17" fill="#2f409e"/>
<rect x="90.3" y="25" width="1.2" height="14" fill="#3346a8"/>
<rect x="99.8" y="25" width="1.2" height="14" fill="#3346a8"/>
<circle cx="93.2" cy="52.2" r="0.9" fill="#9fb6ee"/><circle cx="100.5" cy="52.2" r="0.9" fill="#9fb6ee"/>
<path d="M72.4,63.2 H120.4 V75.4 H114.8 V86.5 H78 V75.4 H72.4 Z" fill="url(#gHead)"/>
<path d="M86.6,63.4 H105.2 V71 L96,73.2 L86.6,71 Z" fill="#2f7c4c" opacity="0.8"/>
<path d="M78,75.4 L86,72.5 M114.8,75.4 L106,72.5" stroke="#3b7f5c" stroke-width="0.5" fill="none"/>
<path d="M78,86 H114.8 V90.6 H113.6 V92 H114.4 V95.2 H111.5 V216 H80.8 V95.2 H78.4 V92 H79.2 V90.6 H78 Z" fill="url(#gBody)"/>
<path d="M78,90.8 H114.8 M78.4,95.3 H114.4" stroke="#364a9c" stroke-width="0.7"/>
<rect x="80" y="191" width="32.3" height="15.8" fill="url(#gBody)"/>
<path d="M80,191 H112.3" stroke="#3a4f9f" stroke-width="0.5"/>
<rect x="84.85" y="197.3" width="1.3" height="7.8" fill="#e8ecfa"/>
<rect x="87.65" y="197.3" width="1.3" height="7.8" fill="#e8ecfa"/>
<rect x="101.25" y="197.3" width="1.3" height="7.8" fill="#e8ecfa"/>
<rect x="104.05" y="197.3" width="1.3" height="7.8" fill="#e8ecfa"/>
<rect x="106.65" y="197.3" width="1.3" height="7.8" fill="#e8ecfa"/>
<rect x="80.8" y="214.6" width="30.7" height="1.6" fill="#a9b9e8"/>
<rect x="83.6" y="98.8" width="25.6" height="16.6" fill="url(#gPiston)"/><path d="M89,115.2 H103.4 L100.6,120 H91.9 Z" fill="#0a0806"/>
<rect x="91.9" y="114" width="8.7" height="142" fill="url(#gPiston)"/>
<rect x="95.4" y="116" width="0.8" height="100" fill="#2a1a12" opacity="0.8"/>
<path d="M91.9,250 L88.6,255.4 H88 V260.4 H104.6 V255.4 H104 L100.6,250 Z" fill="#000"/>
<path d="M93.5,255 L95,251.6" stroke="#ddd" stroke-width="0.7"/>
<path d="M95.6,20.6 V67" stroke="#10163c" stroke-width="1.3"/>
<path d="M93,58.8 H98.4" stroke="#0b0b20" stroke-width="1"/>
<path d="M95.5,64 L96.3,70 L101.5,72.8 L95.5,72 L89.5,72.8 L94.7,70 Z" fill="#0a1410"/>
<polygon points="99.8,78.3 108.6,70.3 111,71.1 117,65.4 119,66.2 125.3,61.2 132.4,64.6 124.5,69.5 121.8,68.4 116.2,72.6 113.7,71.6" fill="#ffe236" stroke="#e0a02a" stroke-width="0.8" stroke-linejoin="round"/>
<polygon points="285.2,39.3 294.3,40.4 297.1,42.2 303.9,42.5 307.3,44.5 321.4,46.8 310.1,46.8 307.8,47.9 304.4,46.8 299.9,47.6 297.1,45.9 290.3,46.4" fill="#ffe63a" stroke="#cf9522" stroke-width="0.8" stroke-linejoin="round"/>
<path d="M223.2,67 H233 Q241.3,67 241.3,75.5 V80.4 H244 L238.9,85.6 L233.8,80.4 H235.9 V76 Q235.9,71.9 231,71.9 H223.2 Z" fill="#f6e535" stroke="#b89c2e" stroke-width="0.8" stroke-linejoin="round"/>
<g transform="translate(219.1,0)"><path d="M223.2,67 H233 Q241.3,67 241.3,75.5 V80.4 H244 L238.9,85.6 L233.8,80.4 H235.9 V76 Q235.9,71.9 231,71.9 H223.2 Z" fill="#f6e535" stroke="#b89c2e" stroke-width="0.8" stroke-linejoin="round"/></g>
</svg>
</body></html>
